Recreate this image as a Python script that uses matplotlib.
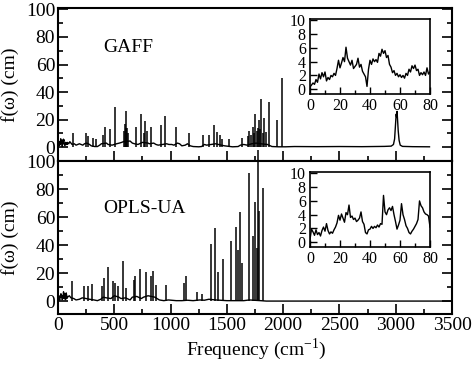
import matplotlib
matplotlib.use("Agg")
import matplotlib.pyplot as plt
import numpy as np

plt.rcParams['font.family'] = ['Liberation Serif', 'DejaVu Serif']
plt.rcParams['mathtext.fontset'] = 'custom'
plt.rcParams['mathtext.rm'] = 'Liberation Serif'

# low-frequency part (0-80 cm-1), also shown in the insets
low_freq = list(range(0, 81))
gaff_low = [0.3, 0.6, 0.9, 0.7, 1.4, 1.0, 2.2, 1.5, 2.4, 1.8, 2.5, 1.2, 1.7, 1.4, 2.0, 1.8,
            2.3, 2.0, 3.0, 4.2, 3.1, 3.8, 4.6, 4.0, 6.1, 4.5, 4.0, 3.5, 4.2, 3.0, 3.3, 3.6,
            4.5, 3.2, 3.6, 2.6, 2.2, 1.8, 0.4, 2.9, 4.2, 3.6, 4.4, 4.0, 4.3, 3.9, 5.2, 4.8,
            5.8, 5.2, 5.6, 4.6, 4.9, 3.6, 3.2, 2.4, 2.7, 2.0, 2.3, 1.8, 2.1, 1.7, 2.0, 1.6,
            2.3, 2.0, 2.9, 2.5, 3.4, 3.0, 3.5, 2.7, 2.9, 2.0, 2.4, 2.1, 2.5, 2.0, 3.1, 2.2, 2.5]
opls_low = [0.4, 1.9, 1.5, 1.0, 1.8, 1.1, 1.4, 0.9, 1.7, 2.2, 1.6, 2.7, 1.7, 1.2, 1.5, 1.3,
            1.8, 2.2, 2.8, 3.9, 3.2, 4.1, 3.5, 2.9, 4.3, 4.0, 5.4, 3.6, 3.8, 3.3, 3.5, 3.0,
            3.2, 3.5, 4.4, 3.0, 2.6, 1.4, 1.2, 1.8, 1.9, 2.3, 2.0, 2.3, 2.1, 2.5, 2.2, 2.7,
            2.6, 6.8, 4.4, 4.0, 4.7, 5.0, 4.6, 5.2, 4.0, 3.0, 1.9, 2.5, 3.2, 5.6, 4.0, 3.3,
            2.4, 2.0, 1.4, 1.2, 1.6, 1.9, 2.3, 2.7, 3.3, 6.0, 5.3, 5.0, 4.4, 4.1, 4.0, 3.8, 2.2]

# GAFF: background line above 80 cm-1 (incl. the band near 3000) and sharp lines
gaff_base_freq = [85, 95, 105, 115, 125, 145, 160, 175, 190, 205, 220, 235, 255, 280, 295,
                  325, 350, 370, 385, 430, 445, 480, 520, 545, 565, 580, 640, 660, 680, 710,
                  750, 800, 810, 850, 870, 890, 930, 965, 985, 1010, 1030, 1060, 1080, 1100,
                  1130, 1150, 1175, 1200, 1250, 1275, 1300, 1320, 1360, 1400, 1450, 1480,
                  1550, 1600, 1620, 1650, 1680, 1720, 1760, 1800, 1860, 1900, 1960, 2020,
                  2100, 2300, 2500, 2700, 2900, 2960, 2980, 2990, 2998, 3004, 3008, 3012,
                  3016, 3022, 3030, 3040, 3060, 3150, 3300]
gaff_base_val = [3.5, 2.5, 4.0, 3.0, 2.0, 2.5, 1.5, 2.0, 2.5, 2.0, 1.5, 2.5, 3.0, 2.0, 1.0,
                 0.5, 0.5, 1.5, 2.5, 3.0, 2.0, 1.5, 2.5, 3.0, 3.5, 4.0, 4.5, 3.0, 2.5, 2.0,
                 3.5, 3.0, 2.5, 3.0, 2.0, 1.5, 2.0, 2.5, 2.0, 2.0, 1.5, 3.0, 2.5, 1.0,
                 1.5, 2.5, 1.0, 0.5, 0.3, 0.5, 2.0, 1.5, 2.0, 2.5, 1.5, 1.0,
                 0.3, 0.5, 1.5, 2.0, 1.5, 2.5, 3.0, 2.5, 2.0, 0.5, 0.3, 0.3,
                 0.5, 0.4, 0.5, 0.4, 0.6, 0.8, 2.0, 6.0, 16.0, 24.0, 22.0, 26.0,
                 20.0, 12.0, 5.0, 1.5, 0.6, 0.4, 0.3]
gaff_peak_freq = [135, 245, 268, 313, 337, 399, 416, 461, 505, 585, 593, 600, 608, 617, 625,
                  697, 735, 760, 771, 790, 830, 918, 948, 1045, 1160, 1287, 1340, 1385, 1414,
                  1435, 1459, 1517, 1636, 1690, 1700, 1715, 1730, 1745, 1754, 1765, 1774,
                  1789, 1795, 1804, 1820, 1833, 1848, 1872, 1943, 1990]
gaff_peak_height = [10, 10, 8, 6.5, 6, 8.7, 14.5, 13, 29, 12, 17, 14, 26, 14, 10,
                    15, 24.4, 10, 19, 12, 15, 16, 23, 15, 10, 8.7, 9, 16, 11,
                    8.7, 6, 6, 6.5, 8, 12, 9, 15, 10, 24.4, 12, 14,
                    19.6, 13, 35, 10, 21.5, 11, 33, 19.6, 50]

# OPLS-UA
opls_base_freq = [85, 100, 115, 140, 160, 190, 215, 250, 280, 320, 350, 380, 400, 430, 470,
                  500, 540, 560, 600, 640, 660, 700, 740, 760, 800, 860, 900, 940, 980, 1050,
                  1100, 1150, 1200, 1260, 1300, 1340, 1400, 1500, 1650, 1700, 1800, 1850,
                  2000, 2500, 3000, 3500]
opls_base_val = [3.0, 4.0, 2.5, 2.0, 1.0, 1.5, 2.5, 2.0, 1.5, 1.0, 0.5, 1.5, 3.0, 2.5, 2.0,
                 4.0, 3.0, 2.0, 2.5, 1.0, 3.0, 3.5, 2.0, 3.0, 4.0, 3.0, 1.0, 0.5, 1.0, 0.5,
                 0.5, 0.8, 0.5, 1.0, 0.8, 1.5, 1.0, 0.5, 0.5, 1.0, 0.5, 0.2,
                 0.2, 0.2, 0.2, 0.2]
opls_peak_freq = [127, 233, 268, 298, 387, 410, 446, 490, 505, 529, 579, 608, 676, 688, 726,
                  786, 830, 848, 874, 963, 1122, 1134, 1237, 1278, 1358, 1391, 1420, 1470,
                  1538, 1585, 1603, 1618, 1636, 1700, 1730, 1754, 1765, 1775, 1785, 1818]
opls_peak_height = [14.3, 10.8, 10.8, 12.7, 10.8, 16.8, 24.4, 14.3, 13, 10.8, 28.7, 9.6, 15.5,
                    18, 22.7, 20.8, 18.4, 21.5, 12, 12, 13, 18, 7, 5.5, 40.6, 52.6, 20.8, 30.4,
                    43, 53.3, 36.6, 63.4, 27.5, 91.5, 46.6, 70.5, 38, 108, 64.5, 80.6]

panels = [
    ("GAFF", gaff_low, gaff_base_freq, gaff_base_val, gaff_peak_freq, gaff_peak_height,
     [0.1224, 0.5601, 0.8312, 0.418], (-10, 101), [0.654, 0.7432, 0.2532, 0.2049]),
    ("OPLS-UA", opls_low, opls_base_freq, opls_base_val, opls_peak_freq, opls_peak_height,
     [0.1224, 0.1421, 0.8312, 0.418], (-9, 100), [0.654, 0.3251, 0.2532, 0.2049]),
]

fig = plt.figure(figsize=(4.74, 3.66), dpi=100)

for i, (name, low, bf, bv, pf, ph, rect, ylim, inrect) in enumerate(panels):
    ax = fig.add_axes(rect)
    ax.plot(low_freq + bf, low + bv, color='black', lw=1.0)
    ax.vlines(pf, 0, ph, color='black', lw=1.1, clip_on=False)
    ax.set_xlim(0, 3500)
    ax.set_ylim(*ylim)
    ax.set_xticks(np.arange(0, 3501, 500))
    ax.set_xticks(np.arange(0, 3501, 250), minor=True)
    ax.set_yticks(np.arange(0, 101, 20))
    ax.set_yticks(np.arange(0, 101, 10), minor=True)
    ax.tick_params(which='both', direction='in', right=True, labelsize=14, width=1.2, pad=2)
    ax.tick_params(which='major', length=7)
    ax.tick_params(which='minor', length=3.5)
    for s in ax.spines.values():
        s.set_linewidth(1.5)
    if i == 0:
        ax.tick_params(labelbottom=False)
    ax.text(400 if i == 0 else 400, 72 if i == 0 else 66, name, fontsize=14, va='center')

    ins = fig.add_axes(inrect)
    ins.plot(low_freq, low, color='black', lw=1.0)
    ins.set_xlim(0, 80)
    ins.set_ylim(-0.7, 10.2)
    ins.set_xticks([0, 20, 40, 60, 80])
    ins.set_xticks([10, 30, 50, 70], minor=True)
    ins.set_yticks([0, 2, 4, 6, 8, 10])
    ins.tick_params(which='both', direction='in', labelsize=11.5, width=1.0, pad=3)
    ins.tick_params(which='major', length=5)
    ins.tick_params(which='minor', length=3)
    for s in ins.spines.values():
        s.set_linewidth(1.2)

fig.text(0.022, 0.769, 'f(ω) (cm)', rotation=90, va='center', ha='center', fontsize=14)
fig.text(0.022, 0.351, 'f(ω) (cm)', rotation=90, va='center', ha='center', fontsize=14)
fig.text(0.54, 0.045, 'Frequency (cm$^{-1}$)', va='center', ha='center', fontsize=14)

fig.savefig('out.png', dpi=100)
